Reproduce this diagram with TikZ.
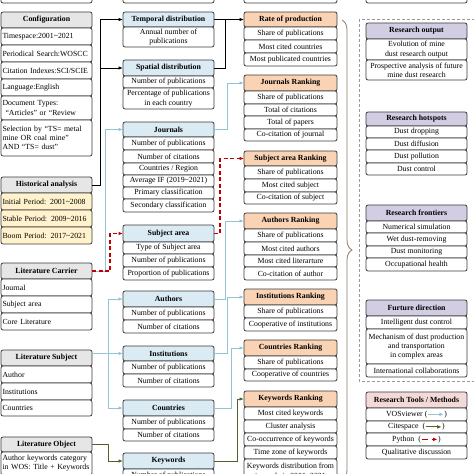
\documentclass[tikz,border=0pt]{standalone}
\usepackage{fontspec}
\setmainfont{Liberation Serif}
\usetikzlibrary{arrows.meta,decorations.pathreplacing,calc}
\definecolor{boxc}{HTML}{3A3A3A}
\definecolor{grayhd}{HTML}{E6E6E6}
\definecolor{bluehd}{HTML}{DAEBF3}
\definecolor{peach}{HTML}{F9D3B4}
\definecolor{lav}{HTML}{D2CDE3}
\definecolor{pinkhd}{HTML}{F3DAD9}
\definecolor{yel}{HTML}{FFF2CC}
\definecolor{bluec}{HTML}{93C4D6}
\definecolor{greenc}{HTML}{4F6228}
\definecolor{redc}{HTML}{C00000}
\definecolor{bracec}{HTML}{8A7A6A}
\definecolor{dashc}{HTML}{9A9A9A}
\newcommand{\mybox}[6]{\node[#2, minimum height={#5-#4}] (#1) at (#3,#4) {#6};}
\tikzset{
  bx/.style={draw=boxc, line width=0.75pt, rounded corners=2pt, fill=white,
    inner xsep=0.5pt, inner ysep=0.5pt, outer sep=0pt, anchor=north west,
    font=\fontsize{7.8}{9.2}\selectfont, align=center},
  hd/.style={bx, font=\fontsize{7.8}{9.2}\selectfont\bfseries},
  lrow/.style={bx, minimum width=91pt, text width=88pt, align=left},
  yrow/.style={lrow, fill=yel},
  lhd/.style={hd, minimum width=91pt, fill=grayhd},
  mhd/.style={hd, minimum width=91pt, fill=bluehd},
  mrow/.style={bx, minimum width=91pt},
  rhd/.style={hd, minimum width=93pt, fill=peach},
  rrow/.style={bx, minimum width=93pt},
  phd/.style={hd, minimum width=101pt, fill=lav},
  prow/.style={bx, minimum width=101pt},
  thd/.style={hd, minimum width=101pt, fill=pinkhd},
  tip/.style={-{Latex[length=4.5pt,width=3.6pt]}},
  blk/.style={draw=black, line width=0.9pt},
  blkarr/.style={blk, tip},
  bluearr/.style={draw=bluec, line width=1pt, tip},
  greenarr/.style={draw=greenc, line width=1pt, tip},
  redarr/.style={draw=redc, line width=1.1pt, dash pattern=on 4pt off 2.5pt, tip},
}
\begin{document}
\begin{tikzpicture}[x=1pt,y=-1pt]
\useasboundingbox (0,0) rectangle (474,474);
\clip (0,0) rectangle (474,474);
\fill[white] (0,0) rectangle (474,474);
% dashed frame and brace
\draw[dashc, line width=0.8pt, dash pattern=on 3pt off 2pt] (359,19) rectangle (490,381);
\draw[bracec, line width=0.8pt, decorate, decoration={brace, amplitude=10pt}] (342,20) -- (342,480);
% ---------------- left column
\mybox{topL}{lrow}{1}{-15}{3}{}
\mybox{cfg}{lhd}{1}{12}{28}{Configuration}
\mybox{c1}{lrow}{1}{28}{45}{Timespace:2001\textasciitilde2021}
\mybox{c2}{lrow}{1}{45}{62}{Periodical Search:WOSCC}
\mybox{c3}{lrow}{1}{62}{79}{Citation Indexes:SCI/SCIE}
\mybox{c4}{lrow}{1}{79}{96}{Language:English}
\mybox{c5}{lrow}{1}{96}{120}{Document Types:\\\hspace*{3pt}“Articles” or “Review}
\mybox{c6}{lrow}{1}{120}{156}{Selection by “TS= metal\\mine OR coal mine”\\AND “TS= dust”}
\mybox{hist}{lhd}{1}{177}{193}{Historical analysis}
\mybox{h1}{yrow}{1}{193}{210}{Initial Period: 2001\textasciitilde2008}
\mybox{h2}{yrow}{1}{210}{227}{Stable Period: 2009\textasciitilde2016}
\mybox{h3}{yrow}{1}{227}{244}{Boom Period: 2017\textasciitilde2021}
\mybox{carrier}{lhd}{1}{263}{279}{Literature Carrier}
\mybox{lc1}{lrow}{1}{279}{296}{Journal}
\mybox{lc2}{lrow}{1}{296}{313}{Subject area}
\mybox{lc3}{lrow}{1}{313}{330}{Core Literature}
\mybox{subj}{lhd}{1}{350}{366}{Literature Subject}
\mybox{ls1}{lrow}{1}{366}{383}{Author}
\mybox{ls2}{lrow}{1}{383}{400}{Institutions}
\mybox{ls3}{lrow}{1}{400}{416}{Countries}
\mybox{obj}{lhd}{1}{437}{452}{Literature Object}
\mybox{lo1}{lrow}{1}{452}{475}{Author keywords category\\in WOS: Title + Keywords}
% ---------------- middle column
\mybox{topM}{mrow}{123}{-15}{3}{}
\mybox{temp}{mhd}{123}{12}{27}{Temporal distribution}
\mybox{t1}{mrow}{123}{27}{47}{Annual number of\\publications}
\mybox{spat}{mhd}{123}{60}{76}{Spatial distribution}
\mybox{s1}{mrow}{123}{76}{88}{Number of publications}
\mybox{s2}{mrow}{123}{88}{109}{Percentage of publications\\in each country}
\mybox{jour}{mhd}{123}{122}{137}{Journals}
\mybox{j1}{mrow}{123}{137}{150}{Number of publications}
\mybox{j2}{mrow}{123}{150}{163}{Number of citations}
\mybox{j3}{mrow}{123}{163}{175}{Countries / Region}
\mybox{j4}{mrow}{123}{175}{187}{Average IF (2019\textasciitilde2021)}
\mybox{j5}{mrow}{123}{187}{199}{Primary classification}
\mybox{j6}{mrow}{123}{199}{212}{Secondary classification}
\mybox{sa}{mhd}{123}{225}{242}{Subject area}
\mybox{sa1}{mrow}{123}{242}{254}{Type of Subject area}
\mybox{sa2}{mrow}{123}{254}{267}{Number of publications}
\mybox{sa3}{mrow}{123}{267}{280}{Proportion of publications}
\mybox{au}{mhd}{123}{291}{307}{Authors}
\mybox{au1}{mrow}{123}{307}{320}{Number of publications}
\mybox{au2}{mrow}{123}{320}{333}{Number of citations}
\mybox{in}{mhd}{123}{346}{361}{Institutions}
\mybox{in1}{mrow}{123}{361}{374}{Number of publications}
\mybox{in2}{mrow}{123}{374}{387}{Number of citations}
\mybox{co}{mhd}{123}{400}{416}{Countries}
\mybox{co1}{mrow}{123}{416}{429}{Number of publications}
\mybox{co2}{mrow}{123}{429}{441}{Number of citations}
\mybox{kw}{mhd}{123}{453}{469}{Keywords}
\mybox{kw1}{mrow}{123}{469}{482}{Number of publications}
% ---------------- ranking column
\mybox{topR}{rrow}{244}{-15}{3}{}
\mybox{rp}{rhd}{244}{12}{27}{Rate of production}
\mybox{rp1}{rrow}{244}{27}{40}{Share of publications}
\mybox{rp2}{rrow}{244}{40}{53}{Most cited countries}
\mybox{rp3}{rrow}{244}{53}{66}{Most publicated countries}
\mybox{jr}{rhd}{244}{75}{91}{Journals Ranking}
\mybox{jr1}{rrow}{244}{91}{104}{Share of publications}
\mybox{jr2}{rrow}{244}{104}{116}{Total of citations}
\mybox{jr3}{rrow}{244}{116}{129}{Total of papers}
\mybox{jr4}{rrow}{244}{129}{141}{Co-citation of journal}
\mybox{sr}{rhd}{244}{151}{166}{Subject area Ranking}
\mybox{sr1}{rrow}{244}{166}{179}{Share of publications}
\mybox{sr2}{rrow}{244}{179}{192}{Most cited subject}
\mybox{sr3}{rrow}{244}{192}{204}{Co-citation of subject}
\mybox{ar}{rhd}{244}{213}{229}{Authors Ranking}
\mybox{ar1}{rrow}{244}{229}{242}{Share of publications}
\mybox{ar2}{rrow}{244}{242}{255}{Most cited authors}
\mybox{ar3}{rrow}{244}{255}{267}{Most cited literarture}
\mybox{ar4}{rrow}{244}{267}{280}{Co-citation of author}
\mybox{ir}{rhd}{244}{289}{305}{Institutions Ranking}
\mybox{ir1}{rrow}{244}{305}{318}{Share of publications}
\mybox{ir2}{rrow}{244}{318}{331}{Cooperative of institutions}
\mybox{cr}{rhd}{244}{340}{356}{Countries Ranking}
\mybox{cr1}{rrow}{244}{356}{369}{Share of publications}
\mybox{cr2}{rrow}{244}{369}{381}{Cooperative of countries}
\mybox{kr}{rhd}{244}{391}{407}{Keywords Ranking}
\mybox{kr1}{rrow}{244}{407}{420}{Most cited keywords}
\mybox{kr2}{rrow}{244}{420}{433}{Cluster analysis}
\mybox{kr3}{rrow}{244}{433}{446}{Co-occurrence of keywords}
\mybox{kr4}{rrow}{244}{446}{459}{Time zone of keywords}
\mybox{kr5}{rrow}{244}{459}{484}{Keywords distribution from\\journals in 2001\textasciitilde2021}
% ---------------- right column
\mybox{topP}{prow}{366}{-15}{3}{}
\mybox{ro}{phd}{366}{23}{39}{Research output}
\mybox{ro1}{prow}{366}{39}{60}{Evolution of mine\\dust research output}
\mybox{ro2}{prow}{366}{60}{80}{Prospective analysis of future\\mine dust research}
\mybox{rh}{phd}{366}{112}{126}{Research hotspots}
\mybox{rh1}{prow}{366}{126}{138}{Dust dropping}
\mybox{rh2}{prow}{366}{138}{150}{Dust diffusion}
\mybox{rh3}{prow}{366}{150}{163}{Dust pollution}
\mybox{rh4}{prow}{366}{163}{175}{Dust control}
\mybox{rf}{phd}{366}{205}{221}{Research frontiers}
\mybox{rf1}{prow}{366}{221}{233}{Numerical simulation}
\mybox{rf2}{prow}{366}{233}{246}{Wet dust-removing}
\mybox{rf3}{prow}{366}{246}{258}{Dust monitoring}
\mybox{rf4}{prow}{366}{258}{271}{Occupational health}
\mybox{fd}{phd}{366}{300}{316}{Furture direction}
\mybox{fd1}{prow}{366}{316}{329}{Intelligent dust control}
\mybox{fd2}{prow}{366}{329}{364}{Mechanism of dust production\\and transportation\\in complex areas}
\mybox{fd3}{prow}{366}{364}{377}{International collaborations}
\mybox{rt}{thd}{366}{392}{408}{Research Tools / Methods}
\mybox{rt1}{prow}{366}{408}{421}{VOSviewer (\tikz[baseline=-2pt,x=1pt,y=1pt]\draw[bluec,line width=1pt,-{Latex[length=4.5pt,width=3.6pt]}] (0,0)--(16,0);)}
\mybox{rt2}{prow}{366}{421}{433}{Citespace\; (\tikz[baseline=-2pt,x=1pt,y=1pt]\draw[greenc,line width=1pt,-{Latex[length=4.5pt,width=3.6pt]}] (0,0)--(16,0);)}
\mybox{rt3}{prow}{366}{433}{446}{Python\; (\tikz[baseline=-2pt,x=1pt,y=1pt]\draw[redc,line width=1.1pt,dash pattern=on 6pt off 4pt,-{Latex[length=4.5pt,width=3.6pt]}] (0,0)--(16,0);)}
\mybox{rt4}{prow}{366}{446}{459}{Qualitative discussion}
% ---------------- connectors
\coordinate (jh) at ($(hist.east)+(8,0)$);
\draw[blkarr] (hist.east) -- (jh) |- (temp.west);
\draw[blkarr] (jh) |- (spat.west);
\coordinate (jt) at ($(temp.east)+(11,0)$);
\draw[blkarr] (temp.east) -- (rp.west);
\draw[blk] (spat.east) -| (jt);
\draw[bluearr] (carrier.east) -- ++(13,0) |- (jour.west);
\draw[redarr] (carrier.east) -- ++(18,0) |- (sa.west);
\draw[redarr] (sa.east) -- ++(6,0) |- (sr.west);
\draw[bluearr] (jour.east) -- ++(13,0) |- (jr.west);
\coordinate (sj) at ($(subj.east |- in.west)+(16,0)$);
\draw[bluearr] (subj.east |- in.west) -- (in.west);
\draw[bluearr] (sj) |- (au.west);
\draw[bluearr] (sj) |- (co.west);
\draw[bluearr] (au.east) -- ++(11,0) |- (ar.west);
\draw[bluearr] (in.east) -- ++(13,0) |- (ir.west);
\draw[bluearr] (co.east) -- ++(17,0) |- (cr.west);
\draw[greenarr] (obj.east) -- ++(16,0) |- (kw.west);
\draw[greenarr] (kw.east) -- ++(23,0) |- (kr.west);
\end{tikzpicture}
\end{document}
